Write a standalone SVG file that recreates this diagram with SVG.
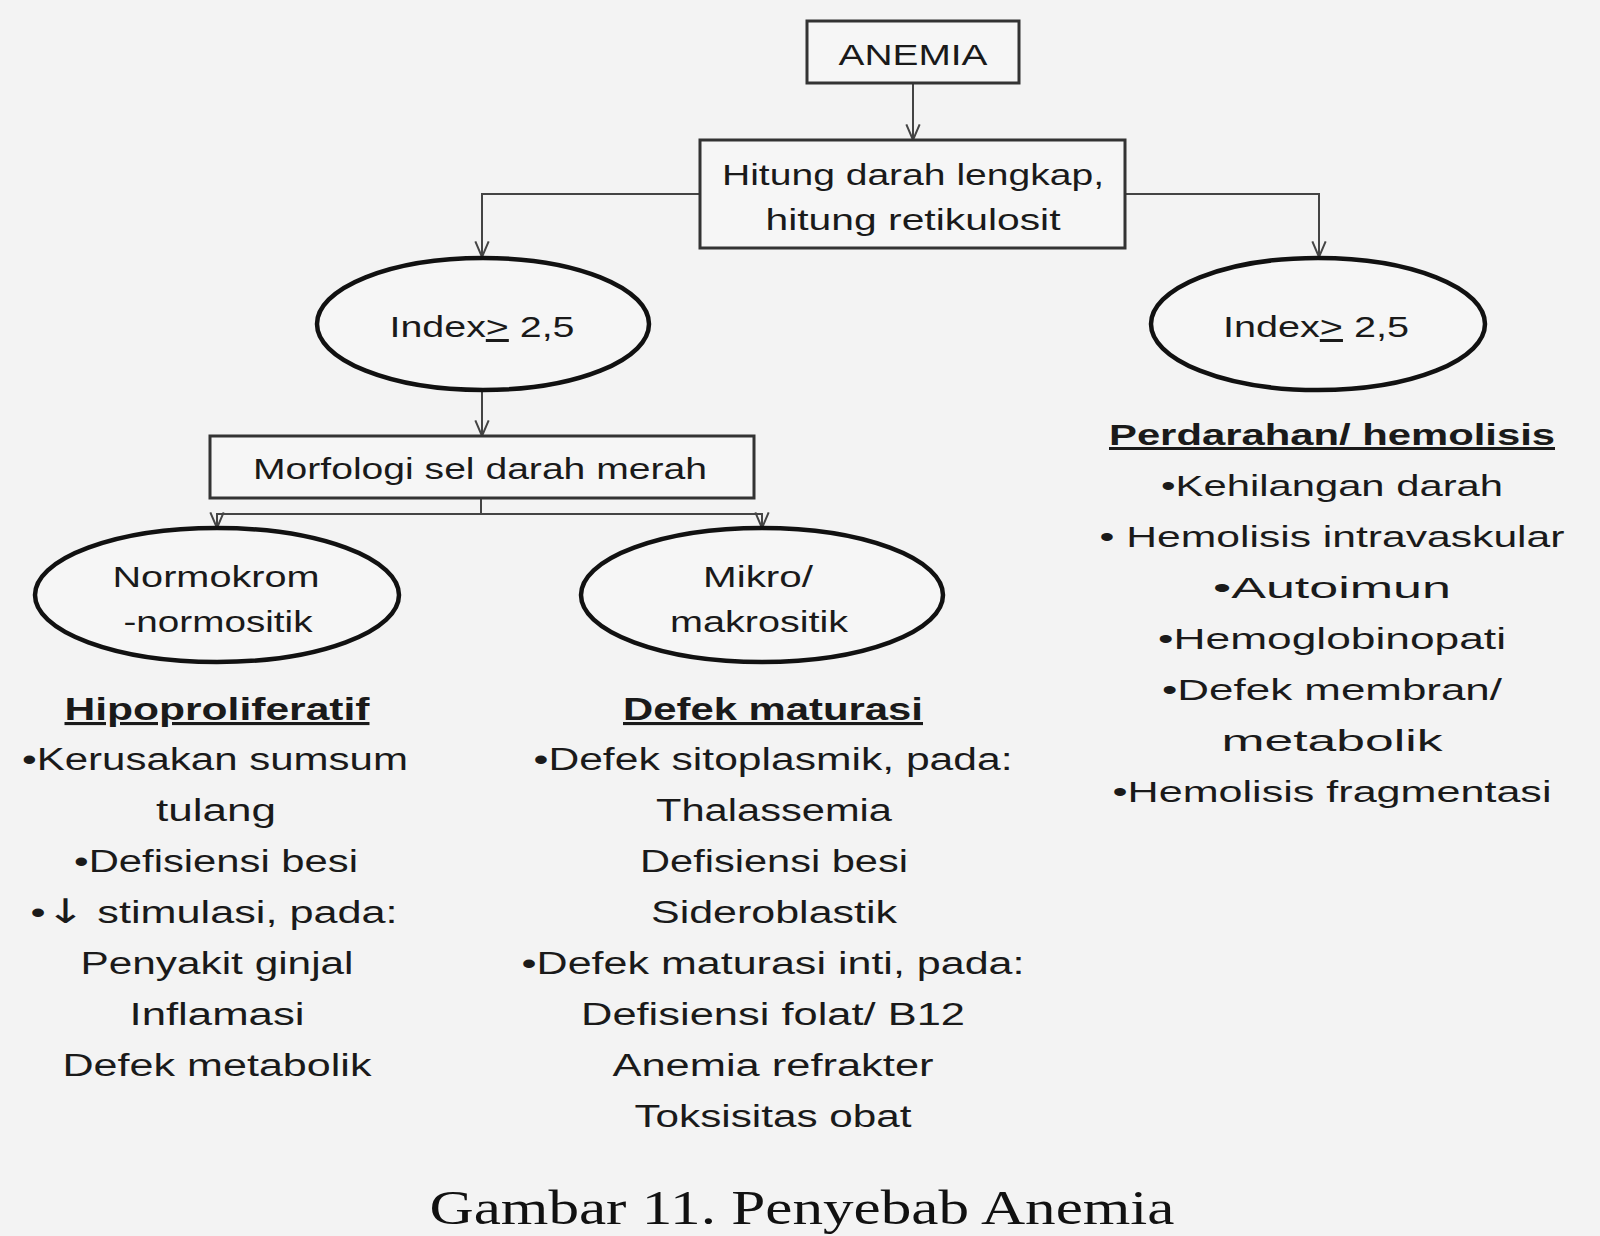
<svg xmlns="http://www.w3.org/2000/svg" width="1600" height="1236" viewBox="0 0 1600 1236">
<style>
.bg{fill:#f3f3f3}
.box{fill:#f6f6f6;stroke:#333;stroke-width:3}
.ell{fill:#f6f6f6;stroke:#111;stroke-width:4.5}
.t{font-family:"Liberation Sans",Arial,sans-serif;font-size:30px;fill:#1a1a1a;text-anchor:middle}
.l{font-family:"Liberation Sans",Arial,sans-serif;font-size:31px;fill:#1a1a1a;text-anchor:middle}
.h{font-weight:bold;text-decoration:underline}
.cap{font-family:"Liberation Serif","Times New Roman",serif;font-size:48px;fill:#111;text-anchor:middle}
.c{fill:none;stroke:#444;stroke-width:2}
</style>
<defs>
<marker id="arr" markerUnits="userSpaceOnUse" markerWidth="20" markerHeight="20" viewBox="-16 -8 18 16" refX="0" refY="0" orient="auto">
<path d="M-14,-6 L0,0 L-14,6" fill="none" stroke="#444" stroke-width="1.8"/>
</marker>
</defs>
<rect class="bg" x="0" y="0" width="1600" height="1236"/>

<g id="connectors">
<path class="c" d="M913,83 L913,140" marker-end="url(#arr)"/>
<path class="c" d="M700,194 L482,194 L482,257" marker-end="url(#arr)"/>
<path class="c" d="M1125,194 L1319,194 L1319,257" marker-end="url(#arr)"/>
<path class="c" d="M482,390 L482,436" marker-end="url(#arr)"/>
<path class="c" d="M481,498 L481,514 L217,514 L217,528" marker-end="url(#arr)"/>
<path class="c" d="M481,514 L762,514 L762,528" marker-end="url(#arr)"/>
</g>

<g id="anemia">
<rect class="box" x="807" y="21" width="212" height="62"/>
<text class="t" x="913" y="65" textLength="149" lengthAdjust="spacingAndGlyphs">ANEMIA</text>
</g>

<g id="hitung">
<rect class="box" x="700" y="140" width="425" height="108"/>
<text class="t" x="913" y="185" textLength="382" lengthAdjust="spacingAndGlyphs">Hitung darah lengkap,</text>
<text class="t" x="913" y="230" textLength="295" lengthAdjust="spacingAndGlyphs">hitung retikulosit</text>
</g>

<g id="index-left">
<ellipse class="ell" cx="483" cy="324" rx="166" ry="66"/>
<text class="t" x="482" y="337" textLength="185" lengthAdjust="spacingAndGlyphs">Index<tspan text-decoration="underline">&gt;</tspan> 2,5</text>
</g>

<g id="index-right">
<ellipse class="ell" cx="1318" cy="324" rx="167" ry="66"/>
<text class="t" x="1316" y="337" textLength="186" lengthAdjust="spacingAndGlyphs">Index<tspan text-decoration="underline">&gt;</tspan> 2,5</text>
</g>

<g id="morfologi">
<rect class="box" x="210" y="436" width="544" height="62"/>
<text class="t" x="480" y="479" textLength="454" lengthAdjust="spacingAndGlyphs">Morfologi sel darah merah</text>
</g>

<g id="normokrom">
<ellipse class="ell" cx="217" cy="595" rx="182" ry="67"/>
<text class="t" x="216" y="587" textLength="207" lengthAdjust="spacingAndGlyphs">Normokrom</text>
<text class="t" x="218" y="632" textLength="189" lengthAdjust="spacingAndGlyphs">-normositik</text>
</g>

<g id="mikro">
<ellipse class="ell" cx="762" cy="595" rx="181" ry="67"/>
<text class="t" x="758" y="587" textLength="110" lengthAdjust="spacingAndGlyphs">Mikro/</text>
<text class="t" x="759" y="632" textLength="178" lengthAdjust="spacingAndGlyphs">makrositik</text>
</g>

<g id="hipoproliferatif">
<text class="l h" x="217" y="720" textLength="305" lengthAdjust="spacingAndGlyphs">Hipoproliferatif</text>
<text class="l" x="215" y="770" textLength="386" lengthAdjust="spacingAndGlyphs">•Kerusakan sumsum</text>
<text class="l" x="216" y="821" textLength="120" lengthAdjust="spacingAndGlyphs">tulang</text>
<text class="l" x="216" y="872" textLength="284" lengthAdjust="spacingAndGlyphs">•Defisiensi besi</text>
<text class="l" x="214" y="923" textLength="367" lengthAdjust="spacingAndGlyphs">•<tspan font-family="'DejaVu Sans',sans-serif" font-size="34">↓</tspan> stimulasi, pada:</text>
<text class="l" x="217" y="974" textLength="273" lengthAdjust="spacingAndGlyphs">Penyakit ginjal</text>
<text class="l" x="217" y="1025" textLength="175" lengthAdjust="spacingAndGlyphs">Inflamasi</text>
<text class="l" x="217" y="1076" textLength="309" lengthAdjust="spacingAndGlyphs">Defek metabolik</text>
</g>

<g id="defek-maturasi">
<text class="l h" x="773" y="720" textLength="300" lengthAdjust="spacingAndGlyphs">Defek maturasi</text>
<text class="l" x="773" y="770" textLength="479" lengthAdjust="spacingAndGlyphs">•Defek sitoplasmik, pada:</text>
<text class="l" x="774" y="821" textLength="236" lengthAdjust="spacingAndGlyphs">Thalassemia</text>
<text class="l" x="774" y="872" textLength="268" lengthAdjust="spacingAndGlyphs">Defisiensi besi</text>
<text class="l" x="774" y="923" textLength="246" lengthAdjust="spacingAndGlyphs">Sideroblastik</text>
<text class="l" x="773" y="974" textLength="503" lengthAdjust="spacingAndGlyphs">•Defek maturasi inti, pada:</text>
<text class="l" x="773" y="1025" textLength="384" lengthAdjust="spacingAndGlyphs">Defisiensi folat/ B12</text>
<text class="l" x="773" y="1076" textLength="321" lengthAdjust="spacingAndGlyphs">Anemia refrakter</text>
<text class="l" x="773" y="1127" textLength="277" lengthAdjust="spacingAndGlyphs">Toksisitas obat</text>
</g>

<g id="perdarahan">
<text class="t h" x="1332" y="445" textLength="446" lengthAdjust="spacingAndGlyphs">Perdarahan/ hemolisis</text>
<text class="t" x="1332" y="496" textLength="342" lengthAdjust="spacingAndGlyphs">•Kehilangan darah</text>
<text class="t" x="1332" y="547" textLength="465" lengthAdjust="spacingAndGlyphs">• Hemolisis intravaskular</text>
<text class="t" x="1332" y="598" textLength="238" lengthAdjust="spacingAndGlyphs">•Autoimun</text>
<text class="t" x="1332" y="649" textLength="348" lengthAdjust="spacingAndGlyphs">•Hemoglobinopati</text>
<text class="t" x="1332" y="700" textLength="340" lengthAdjust="spacingAndGlyphs">•Defek membran/</text>
<text class="t" x="1332" y="751" textLength="221" lengthAdjust="spacingAndGlyphs">metabolik</text>
<text class="t" x="1332" y="802" textLength="439" lengthAdjust="spacingAndGlyphs">•Hemolisis fragmentasi</text>
</g>

<g id="caption">
<text class="cap" x="802" y="1224" textLength="745" lengthAdjust="spacingAndGlyphs">Gambar 11. Penyebab Anemia</text>
</g>
</svg>
